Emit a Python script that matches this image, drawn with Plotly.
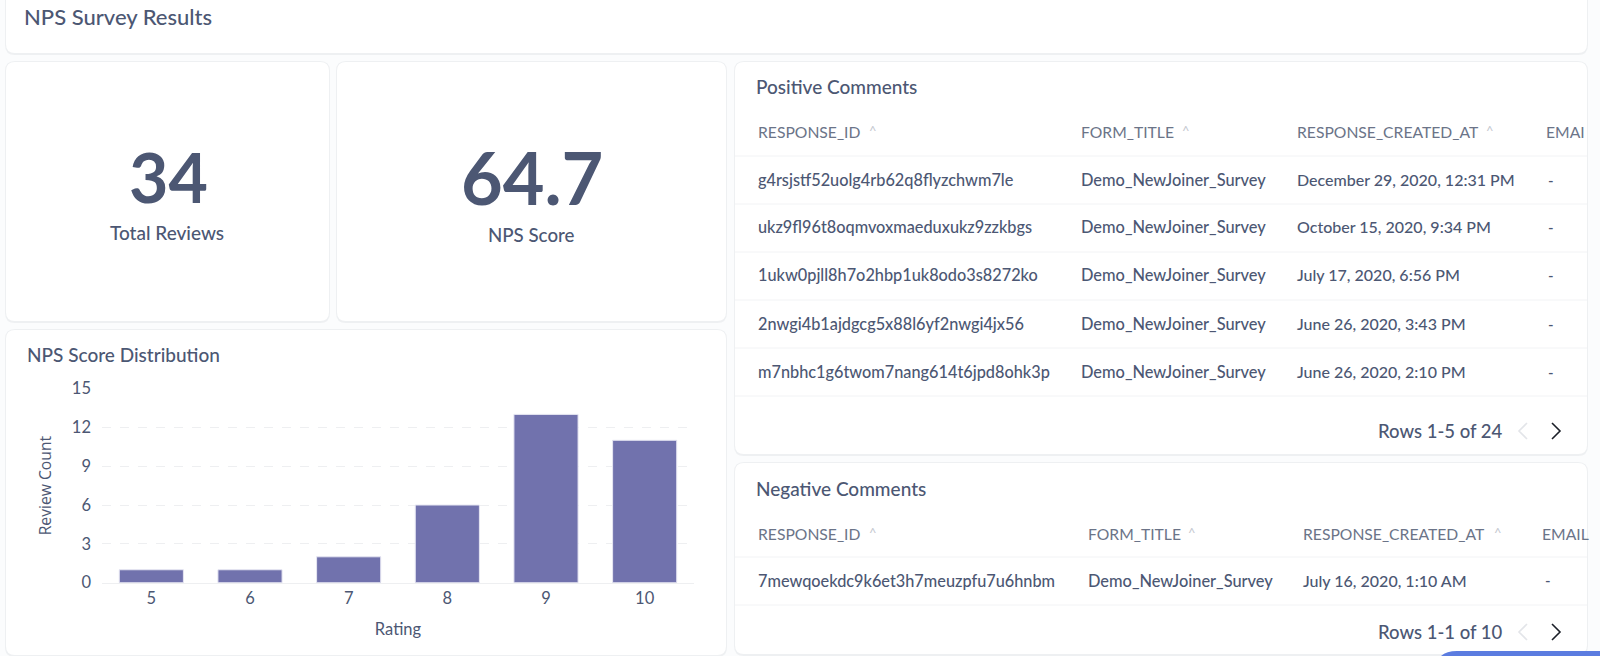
import plotly.graph_objects as go

W, H = 1600, 656
TEXT = '#4c5773'
FONT = 'Lato'

ratings = ['5', '6', '7', '8', '9', '10']
review_counts = [1, 1, 2, 6, 13, 11]
y_ticks = [0, 3, 6, 9, 12, 15]

page_title = 'NPS Survey Results'
total_reviews = '34'
nps_score = '64.7'

headers_pos = ['RESPONSE_ID', 'FORM_TITLE', 'RESPONSE_CREATED_AT', 'EMAI']
headers_neg = ['RESPONSE_ID', 'FORM_TITLE', 'RESPONSE_CREATED_AT', 'EMAIL']
pos_ids = ['g4rsjstf52uolg4rb62q8flyzchwm7le', 'ukz9fl96t8oqmvoxmaeduxukz9zzkbgs',
           '1ukw0pjll8h7o2hbp1uk8odo3s8272ko', '2nwgi4b1ajdgcg5x88l6yf2nwgi4jx56',
           'm7nbhc1g6twom7nang614t6jpd8ohk3p']
pos_forms = ['Demo_NewJoiner_Survey'] * 5
pos_dates = ['December 29, 2020, 12:31 PM', 'October 15, 2020, 9:34 PM', 'July 17, 2020, 6:56 PM',
             'June 26, 2020, 3:43 PM', 'June 26, 2020, 2:10 PM']
neg_ids = ['7mewqoekdc9k6et3h7meuzpfu7u6hnbm']
neg_forms = ['Demo_NewJoiner_Survey']
neg_dates = ['July 16, 2020, 1:10 AM']

shapes = []
annotations = []


def px_x(x):
    return x / W


def px_y(y):
    return 1 - y / H


def text(x, y, s, size=14, color=TEXT, anchor='left', weight=400, **kw):
    annotations.append(dict(x=px_x(x), y=px_y(y), xref='paper', yref='paper', text=s, showarrow=False,
                            xanchor=anchor, yanchor='middle', borderpad=0,
                            font=dict(family=FONT, size=size, color=color, weight=weight), **kw))


def rounded(x0, y0, x1, y1, r, fill):
    p = (f'M{px_x(x0 + r)},{px_y(y0)} L{px_x(x1 - r)},{px_y(y0)} '
         f'Q{px_x(x1)},{px_y(y0)} {px_x(x1)},{px_y(y0 + r)} '
         f'L{px_x(x1)},{px_y(y1 - r)} Q{px_x(x1)},{px_y(y1)} {px_x(x1 - r)},{px_y(y1)} '
         f'L{px_x(x0 + r)},{px_y(y1)} Q{px_x(x0)},{px_y(y1)} {px_x(x0)},{px_y(y1 - r)} '
         f'L{px_x(x0)},{px_y(y0 + r)} Q{px_x(x0)},{px_y(y0)} {px_x(x0 + r)},{px_y(y0)} Z')
    shapes.append(dict(type='path', path=p, xref='paper', yref='paper', fillcolor=fill,
                       line=dict(width=0), layer='below'))


def card(x0, y0, x1, y1):
    rounded(x0 - 1, y0 - 1, x1 + 1, y1 + 2, 10, '#eef0f2')
    rounded(x0, y0, x1, y1, 9, '#ffffff')


def hline(x0, x1, y, color='#f2f3f5'):
    shapes.append(dict(type='line', x0=px_x(x0), x1=px_x(x1), y0=px_y(y), y1=px_y(y), xref='paper', yref='paper',
                       line=dict(color=color, width=1), layer='below'))


def chevron(x, y, direction, color):
    p = (f'M{px_x(x - 4 * direction)},{px_y(y - 8)} L{px_x(x + 4 * direction)},{px_y(y)} '
         f'L{px_x(x - 4 * direction)},{px_y(y + 8)}')
    shapes.append(dict(type='path', path=p, xref='paper', yref='paper', line=dict(color=color, width=1.6),
                       layer='below'))


def table(title, title_y, head_y, headers, head_x, caret_x, rows_y, line_ys, ids, forms, dates, dash_x, footer, foot_y):
    text(755, title_y, title, size=19, weight=500)
    for h, x in zip(headers, head_x):
        text(x, head_y, h, size=15.7, color='#6b7488')
    for x in caret_x:
        text(x, head_y - 1, '^', size=13, color='#c4c8d0', anchor='center')
    for y in line_ys:
        hline(735, 1587, y)
    for i, y in enumerate(rows_y):
        text(head_x[0], y, ids[i], size=16.3, weight=500)
        text(head_x[1], y, forms[i], size=16.4, weight=500)
        text(head_x[2], y, dates[i], size=16, weight=500)
        text(dash_x, y, '-', size=15, weight=500)
    text(1504, foot_y, footer, size=18.5, anchor='right', weight=500)
    chevron(1523, foot_y, -1, '#e3e5e9')
    chevron(1556, foot_y, 1, '#1b1f28')


card(6, -10, 1587, 53)
card(6, 62, 329, 321)
card(337, 62, 726, 321)
card(6, 330, 726, 655)
card(735, 62, 1587, 454)
card(735, 463, 1587, 654)

# chat widget poking in at the bottom right corner
rounded(1435, 651, 1640, 700, 22, '#5b7ce0')

text(23, 17, page_title, size=22, weight=500)
text(168, 177, total_reviews, size=68, anchor='center', weight=700)
text(167, 232, 'Total Reviews', size=19, anchor='center', weight=500)
text(532, 177, nps_score, size=72, anchor='center', weight=700)
text(531, 235, 'NPS Score', size=18.7, anchor='center', weight=500)
text(26, 354, 'NPS Score Distribution', size=19, weight=500)

table('Positive Comments', 86, 132, headers_pos, [757, 1080, 1296, 1545], [873, 1186, 1490],
      [179.5, 227, 274.5, 323.5, 371.5], [156, 204, 252, 300, 348, 396], pos_ids, pos_forms, pos_dates, 1547,
      'Rows 1-5 of 24', 431)
table('Negative Comments', 488, 534, headers_neg, [757, 1087, 1302, 1541], [873, 1192, 1498],
      [580], [557, 605], neg_ids, neg_forms, neg_dates, 1544,
      'Rows 1-1 of 10', 632)

fig = go.Figure(go.Bar(x=ratings, y=review_counts, marker=dict(color='#7172ad', line=dict(color='#e6e6f2', width=1)),
                       width=0.65))
fig.update_layout(
    width=W, height=H, margin=dict(l=0, r=0, t=0, b=0, autoexpand=False), paper_bgcolor='#fbfcfd',
    plot_bgcolor='rgba(0,0,0,0)',
    font=dict(family=FONT, color=TEXT), showlegend=False, shapes=shapes, annotations=annotations,
    xaxis=dict(domain=[px_x(102), px_x(694)], anchor='y', type='category', showgrid=False, showline=True,
               automargin=False, linecolor='#eeeff1', linewidth=1, ticks='', tickfont=dict(size=16.5, color=TEXT),
               title=dict(text='Rating', font=dict(size=16.5, color=TEXT), standoff=16)),
    yaxis=dict(domain=[px_y(582.7), px_y(388.5)], anchor='x', range=[0, 15], tickvals=y_ticks, showline=False,
               automargin=False, gridcolor='#eeeff1', griddash='dash', gridwidth=1, zeroline=False, ticks='',
               tickfont=dict(size=16.5, color=TEXT), ticklabelstandoff=10,
               title=dict(text='Review Count', font=dict(size=15.7, family='Open Sans', color=TEXT), standoff=16)),
)

fig.write_html("out.html", config=dict(displayModeBar=False),
               post_script="document.body.style.margin='0';document.body.style.overflow='hidden';")
